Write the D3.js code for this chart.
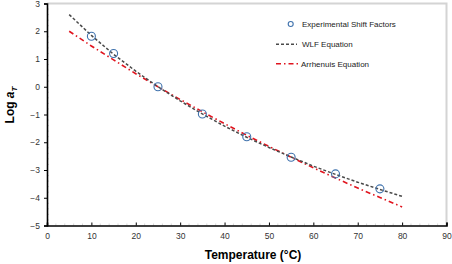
<!DOCTYPE html>
<html>
<head>
<meta charset="utf-8">
<script src="https://cdn.jsdelivr.net/npm/d3@7"></script>
<style>
  body { margin: 0; background: #fff; }
  text { font-family: Arial, "Liberation Sans", sans-serif; }
</style>
</head>
<body>
<svg id="chart" width="452" height="264"></svg>
<script>
// experimental shift factors
const expTemp = [10, 15, 25, 35, 45, 55, 65, 75];
const expLogAT = [1.82, 1.2, 0.0, -0.98, -1.8, -2.54, -3.14, -3.68];

// fitted curves, every 5 degrees
const curveTemp = [5, 10, 15, 20, 25, 30, 35, 40, 45, 50, 55, 60, 65, 70, 75, 80];
const wlfLogAT = [2.6, 1.85, 1.17, 0.56, 0, -0.51, -0.98, -1.42, -1.82, -2.19, -2.53, -2.86, -3.16, -3.44, -3.7, -3.95];
const arrLogAT = [2.0, 1.47, 0.97, 0.47, 0, -0.46, -0.9, -1.33, -1.75, -2.15, -2.54, -2.92, -3.29, -3.65, -3.99, -4.33];

const xTicks = [0, 10, 20, 30, 40, 50, 60, 70, 80, 90];
const yTicks = [3, 2, 1, 0, -1, -2, -3, -4, -5];

const legendItems = ["Experimental Shift Factors", "WLF Equation", "Arrhenuis Equation"];

const svg = d3.select("#chart");
const plotL = 47, plotR = 446.5, plotT = 3.5, plotB = 225.5;

const x = d3.scaleLinear().domain([0, 90]).range([plotL, plotR]);
const y = d3.scaleLinear().domain([-5, 3]).range([plotB, plotT]);

// light frame on top and right
svg.append("path")
    .attr("d", `M${plotL},${plotT}H${plotR}V${plotB}`)
    .attr("fill", "none")
    .attr("stroke", "#d4d4d4")
    .attr("stroke-width", 2);

// minor ticks
const minorX = d3.range(0, 90.01, 2).filter(v => v % 10 !== 0);
svg.append("g").selectAll("line").data(minorX).join("line")
    .attr("x1", d => x(d)).attr("x2", d => x(d))
    .attr("y1", plotB).attr("y2", plotB - 2)
    .attr("stroke", "#ccc").attr("stroke-width", 0.8);
const minorY = d3.range(-5, 3.001, 0.2).filter(v => Math.abs(v - Math.round(v)) > 0.01);
svg.append("g").selectAll("line").data(minorY).join("line")
    .attr("x1", plotL).attr("x2", plotL + 2)
    .attr("y1", d => y(d)).attr("y2", d => y(d))
    .attr("stroke", "#ccc").attr("stroke-width", 0.8);

// axes
const xAxis = svg.append("g")
    .attr("transform", `translate(0,${plotB})`)
    .call(d3.axisBottom(x).tickValues(xTicks).tickSize(-3).tickPadding(7));
const yAxis = svg.append("g")
    .attr("transform", `translate(${plotL},0)`)
    .call(d3.axisLeft(y).tickValues(yTicks).tickSize(3).tickPadding(4));

[xAxis, yAxis].forEach(g => {
    g.select(".domain").attr("stroke", "#000").attr("stroke-width", 1.6);
    g.selectAll(".tick line").attr("stroke", "#000").attr("stroke-width", 1);
    g.selectAll(".tick text").attr("font-size", 8.5).attr("fill", "#333")
        .attr("font-family", "Arial, 'Liberation Sans', sans-serif");
});

// curves
const line = vals => d3.line()
    .x((d, i) => x(curveTemp[i]))
    .y(d => y(d))(vals);

svg.append("path")
    .attr("d", line(arrLogAT))
    .attr("fill", "none")
    .attr("stroke", "#e0141e")
    .attr("stroke-width", 1.6)
    .attr("stroke-dasharray", "5,3,1.5,3");

svg.append("path")
    .attr("d", line(wlfLogAT))
    .attr("fill", "none")
    .attr("stroke", "#4a4a4a")
    .attr("stroke-width", 1.5)
    .attr("stroke-dasharray", "3,2");

// experimental points
svg.append("g").selectAll("circle").data(expTemp).join("circle")
    .attr("cx", d => x(d))
    .attr("cy", (d, i) => y(expLogAT[i]))
    .attr("r", 4)
    .attr("fill", "none")
    .attr("stroke", "#3f72ad")
    .attr("stroke-width", 1.1);

// legend
const legend = svg.append("g");
const legendY = [24, 44.3, 63.7];
legend.append("circle")
    .attr("cx", 290.7).attr("cy", legendY[0]).attr("r", 2.5)
    .attr("fill", "none").attr("stroke", "#3f72ad").attr("stroke-width", 1.1);
legend.append("line")
    .attr("x1", 276).attr("x2", 297).attr("y1", legendY[1]).attr("y2", legendY[1])
    .attr("stroke", "#4a4a4a").attr("stroke-width", 1.5).attr("stroke-dasharray", "3,2");
legend.append("line")
    .attr("x1", 276).attr("x2", 300).attr("y1", legendY[2]).attr("y2", legendY[2])
    .attr("stroke", "#e0141e").attr("stroke-width", 1.6).attr("stroke-dasharray", "5,3,1.5,3");
legend.selectAll("text").data(legendItems).join("text")
    .attr("x", (d, i) => i === 2 ? 301 : 302)
    .attr("y", (d, i) => legendY[i] + 3)
    .attr("font-size", 8)
    .attr("fill", "#222")
    .text(d => d);

// axis titles
svg.append("text")
    .attr("x", 253).attr("y", 259)
    .attr("text-anchor", "middle")
    .attr("font-size", 12).attr("font-weight", "bold")
    .text("Temperature (°C)");

const yTitle = svg.append("text")
    .attr("transform", "translate(14,105) rotate(-90)")
    .attr("text-anchor", "middle")
    .attr("font-size", 12).attr("font-weight", "bold");
yTitle.append("tspan").text("Log ");
yTitle.append("tspan").attr("font-style", "italic").text("a");
yTitle.append("tspan").attr("font-style", "italic").attr("font-size", 8)
    .attr("dy", 3).text("T");
</script>
</body>
</html>
